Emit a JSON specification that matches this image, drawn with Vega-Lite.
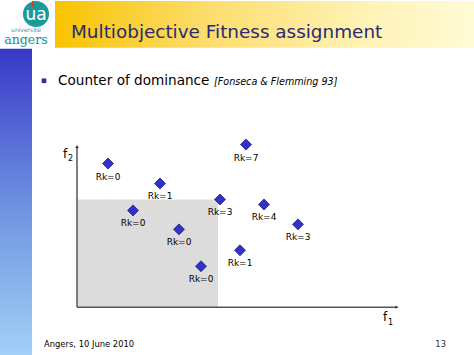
{
  "$schema": "https://vega.github.io/schema/vega-lite/v6.json",
  "width": 474,
  "height": 355,
  "padding": 0,
  "autosize": {"type": "fit", "contains": "padding"},
  "config": {"view": {"stroke": null}},
  "datasets": {
    "header": [{"x": 55, "x2": 474, "y": 0, "y2": 47}],
    "bar": [{"x": 0, "x2": 32, "y": 48, "y2": 355}],
    "shade": [{"x": 77, "x2": 218, "y": 199, "y2": 307}],
    "axes": [{"x": 77, "x2": 77, "y": 307, "y2": 147}, {"x": 77, "x2": 396, "y": 307, "y2": 307}],
    "arrowUp": [{"x": 77, "y": 146}],
    "arrowRight": [{"x": 397, "y": 307}],
    "pts": [
      {"x": 108, "y": 163, "rk": "Rk=0"},
      {"x": 160, "y": 183, "rk": "Rk=1"},
      {"x": 133, "y": 210, "rk": "Rk=0"},
      {"x": 179, "y": 229, "rk": "Rk=0"},
      {"x": 201, "y": 266, "rk": "Rk=0"},
      {"x": 220, "y": 199, "rk": "Rk=3"},
      {"x": 246, "y": 144, "rk": "Rk=7"},
      {"x": 264, "y": 204, "rk": "Rk=4"},
      {"x": 298, "y": 224, "rk": "Rk=3"},
      {"x": 240, "y": 250, "rk": "Rk=1"}
    ],
    "title": [{"x": 71, "y": 37, "t": "Multiobjective Fitness assignment"}],
    "bullet": [{"x": 44, "y": 80}],
    "sub": [{"x": 58, "y": 84, "t": "Counter of dominance"}],
    "ref": [{"x": 214, "y": 84, "t": "[Fonseca & Flemming 93]"}],
    "fbig": [{"x": 63, "y": 157, "t": "f"}, {"x": 383, "y": 321, "t": "f"}],
    "fsub": [{"x": 68, "y": 160, "t": "2"}, {"x": 388, "y": 325, "t": "1"}],
    "footL": [{"x": 44, "y": 347, "t": "Angers, 10 June 2010"}],
    "footR": [{"x": 446, "y": 347, "t": "13"}],
    "logoBlob": [{"x": 36, "y": 13}],
    "logoRed": [{"x": 33, "x2": 33, "y": 0, "y2": 6}],
    "logoUA": [{"x": 36, "y": 19, "t": "ua"}],
    "logoUniv": [{"x": 26, "y": 31, "t": "université"}],
    "logoAngers": [{"x": 26, "y": 43, "t": "angers"}]
  },
  "encoding": {
    "x": {"field": "x", "type": "quantitative", "scale": {"domain": [0, 474], "nice": false, "zero": false}, "axis": null},
    "y": {"field": "y", "type": "quantitative", "scale": {"domain": [0, 355], "nice": false, "zero": false, "reverse": true}, "axis": null}
  },
  "layer": [
    {
      "data": {"name": "header"},
      "mark": {"type": "rect", "color": {"gradient": "linear", "x1": 0, "y1": 0, "x2": 1, "y2": 0, "stops": [{"offset": 0, "color": "#f8c300"}, {"offset": 0.35, "color": "#fcdc6a"}, {"offset": 0.75, "color": "#fff3b8"}, {"offset": 1, "color": "#fffbd6"}]}},
      "encoding": {"x2": {"field": "x2"}, "y2": {"field": "y2"}}
    },
    {
      "data": {"name": "bar"},
      "mark": {"type": "rect", "color": {"gradient": "linear", "x1": 0, "y1": 0, "x2": 0, "y2": 1, "stops": [{"offset": 0, "color": "#3838c8"}, {"offset": 0.5, "color": "#6d90e0"}, {"offset": 1, "color": "#a2d0f8"}]}},
      "encoding": {"x2": {"field": "x2"}, "y2": {"field": "y2"}}
    },
    {
      "data": {"name": "logoBlob"},
      "mark": {"type": "point", "shape": "circle", "filled": true, "size": 680, "color": "#1b9a9c", "opacity": 1}
    },
    {
      "data": {"name": "logoRed"},
      "mark": {"type": "rule", "color": "#d84020", "strokeWidth": 2},
      "encoding": {"x2": {"field": "x2"}, "y2": {"field": "y2"}}
    },
    {
      "data": {"name": "logoUA"},
      "mark": {"type": "text", "font": "DejaVu Sans", "fontSize": 17, "color": "white", "align": "center", "baseline": "alphabetic"},
      "encoding": {"text": {"field": "t"}}
    },
    {
      "data": {"name": "logoUniv"},
      "mark": {"type": "text", "font": "DejaVu Sans", "fontSize": 6, "color": "#5a8a9a", "align": "center", "baseline": "alphabetic"},
      "encoding": {"text": {"field": "t"}}
    },
    {
      "data": {"name": "logoAngers"},
      "mark": {"type": "text", "font": "DejaVu Serif", "fontSize": 12.5, "color": "#1b8a9c", "align": "center", "baseline": "alphabetic"},
      "encoding": {"text": {"field": "t"}}
    },
    {
      "data": {"name": "title"},
      "mark": {"type": "text", "font": "DejaVu Sans", "fontSize": 18.4, "color": "#2b2a72", "align": "left", "baseline": "alphabetic"},
      "encoding": {"text": {"field": "t"}}
    },
    {
      "data": {"name": "bullet"},
      "mark": {"type": "point", "shape": "square", "filled": true, "size": 22, "color": "#33339a", "opacity": 1}
    },
    {
      "data": {"name": "sub"},
      "mark": {"type": "text", "font": "DejaVu Sans", "fontSize": 13.6, "color": "#000000", "align": "left", "baseline": "alphabetic"},
      "encoding": {"text": {"field": "t"}}
    },
    {
      "data": {"name": "ref"},
      "mark": {"type": "text", "font": "DejaVu Sans", "fontSize": 9.6, "fontStyle": "italic", "color": "#000000", "align": "left", "baseline": "alphabetic"},
      "encoding": {"text": {"field": "t"}}
    },
    {
      "data": {"name": "shade"},
      "mark": {"type": "rect", "color": "#dcdcdc"},
      "encoding": {"x2": {"field": "x2"}, "y2": {"field": "y2"}}
    },
    {
      "data": {"name": "axes"},
      "mark": {"type": "rule", "color": "#555555", "strokeWidth": 1.5},
      "encoding": {"x2": {"field": "x2"}, "y2": {"field": "y2"}}
    },
    {
      "data": {"name": "arrowUp"},
      "mark": {"type": "point", "shape": "triangle-up", "filled": true, "size": 12, "color": "#333333", "opacity": 1}
    },
    {
      "data": {"name": "arrowRight"},
      "mark": {"type": "point", "shape": "triangle-right", "filled": true, "size": 12, "color": "#333333", "opacity": 1}
    },
    {
      "data": {"name": "fbig"},
      "mark": {"type": "text", "font": "DejaVu Sans", "fontSize": 12, "color": "#000000", "align": "left", "baseline": "alphabetic"},
      "encoding": {"text": {"field": "t"}}
    },
    {
      "data": {"name": "fsub"},
      "mark": {"type": "text", "font": "DejaVu Sans", "fontSize": 8, "color": "#000000", "align": "left", "baseline": "alphabetic"},
      "encoding": {"text": {"field": "t"}}
    },
    {
      "data": {"name": "pts"},
      "mark": {"type": "point", "shape": "diamond", "filled": true, "size": 120, "color": "#3232c8", "stroke": "#1c1c7a", "strokeWidth": 0.8, "opacity": 1}
    },
    {
      "data": {"name": "pts"},
      "mark": {"type": "text", "font": "DejaVu Sans", "fontSize": 9, "color": "#000000", "align": "center", "baseline": "middle", "dy": 13},
      "encoding": {"text": {"field": "rk"}}
    },
    {
      "data": {"name": "footL"},
      "mark": {"type": "text", "font": "DejaVu Sans", "fontSize": 8.4, "color": "#000000", "align": "left", "baseline": "alphabetic"},
      "encoding": {"text": {"field": "t"}}
    },
    {
      "data": {"name": "footR"},
      "mark": {"type": "text", "font": "DejaVu Sans", "fontSize": 8.4, "color": "#333333", "align": "right", "baseline": "alphabetic"},
      "encoding": {"text": {"field": "t"}}
    }
  ]
}
